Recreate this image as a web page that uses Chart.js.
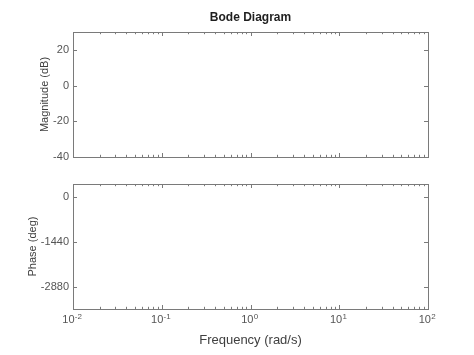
<!DOCTYPE html>
<html>
<head>
<meta charset="utf-8">
<script src="https://cdn.jsdelivr.net/npm/chart.js@4"></script>
<style>
  html, body { margin: 0; padding: 0; background: #ffffff; }
  #wrap { position: relative; width: 474px; height: 355px; }
  #wrap canvas { position: absolute; left: 0; top: 0; }
</style>
</head>
<body>
<div id="wrap">
  <canvas id="mag" width="474" height="355"></canvas>
  <canvas id="phase" width="474" height="355"></canvas>
</div>
<script>
// ---- data (the reference plot contains no response curve) ----
const frequencies = [];
const magnitudeDb = [];
const phaseDeg = [];

// ---- axis ranges / tick labels ----
const freqRange = [0.01, 100];
const freqTicks = [0.01, 0.1, 1, 10, 100];
const freqTickExponents = ['-2', '-1', '0', '1', '2'];
const magRange = [-40, 30];
const magTicks = [20, 0, -20, -40];
const phaseRange = [-3580, 430];
const phaseTicks = [0, -1440, -2880];

const FONT = '"Liberation Sans", Arial, Helvetica, sans-serif';
const BOX_COLOR = '#7a7a7a';
const TICK_TEXT = '#555555';
const LABEL_TEXT = '#404040';

// plugin: MATLAB-style box with inward ticks on all four sides
const boxPlugin = {
  id: 'matlabBox',
  afterDraw(chart, args, opts) {
    const {ctx, chartArea: a, scales} = chart;
    const xs = scales.x, ys = scales.y;
    ctx.save();
    ctx.strokeStyle = BOX_COLOR;
    ctx.lineWidth = 1;
    ctx.strokeRect(Math.round(a.left) + 0.5, Math.round(a.top) + 0.5,
                   Math.round(a.right - a.left), Math.round(a.bottom - a.top));
    ctx.beginPath();
    // x ticks (log decades, with minor ticks)
    const lo = Math.round(Math.log10(freqRange[0])), hi = Math.round(Math.log10(freqRange[1]));
    for (let d = lo; d <= hi; d++) {
      for (let m = 1; m <= 9; m++) {
        const v = m * Math.pow(10, d);
        if (v > freqRange[1] * 1.0001) break;
        const px = Math.round(xs.getPixelForValue(v)) + 0.5;
        const len = m === 1 ? 4 : 2.2;
        ctx.moveTo(px, a.top); ctx.lineTo(px, a.top + len);
        ctx.moveTo(px, a.bottom); ctx.lineTo(px, a.bottom - len);
      }
    }
    // y ticks
    (opts.yTicks || []).forEach(v => {
      const py = Math.round(ys.getPixelForValue(v)) + 0.5;
      ctx.moveTo(a.left, py); ctx.lineTo(a.left + 4, py);
      ctx.moveTo(a.right, py); ctx.lineTo(a.right - 4, py);
    });
    ctx.stroke();

    if (opts.title) {
      ctx.fillStyle = '#1f1f1f';
      ctx.font = 'bold 12px ' + FONT;
      ctx.textAlign = 'center';
      ctx.textBaseline = 'alphabetic';
      ctx.fillText(opts.title, (a.left + a.right) / 2, 20.5);
    }
    if (opts.xLabels) {
      ctx.fillStyle = TICK_TEXT;
      ctx.textBaseline = 'alphabetic';
      ctx.textAlign = 'left';
      freqTicks.forEach((v, i) => {
        const px = xs.getPixelForValue(v);
        ctx.font = '11px ' + FONT;
        const wb = ctx.measureText('10').width;
        ctx.font = '8px ' + FONT;
        const we = ctx.measureText(freqTickExponents[i]).width;
        const x0 = px - (wb + we) / 2 - 1;
        ctx.font = '11px ' + FONT;
        ctx.fillText('10', x0, 323);
        ctx.font = '8px ' + FONT;
        ctx.fillText(freqTickExponents[i], x0 + wb + 0.3, 318.5);
      });
    }
    ctx.restore();
  }
};

function yAxis(range, ticks, title, titlePad) {
  return {
    type: 'linear',
    position: 'left',
    min: range[0],
    max: range[1],
    afterBuildTicks: s => { s.ticks = ticks.map(v => ({value: v})); },
    afterFit: s => { s.width = 73; },
    grid: {display: false, drawTicks: false, tickLength: 0},
    border: {display: false},
    ticks: {font: {family: FONT, size: 11}, color: TICK_TEXT, padding: 4,
            callback: v => String(v)},
    title: {display: true, text: title, color: LABEL_TEXT,
            font: {family: FONT, size: 11}, padding: {top: titlePad, bottom: 0}}
  };
}

const common = {
  responsive: false,
  animation: false,
  devicePixelRatio: 1,
  plugins: {legend: {display: false}, title: {display: false}, tooltip: {enabled: false}},
};

new Chart(document.getElementById('mag'), {
  type: 'line',
  data: {labels: frequencies, datasets: [{data: magnitudeDb, borderColor: '#0072bd', pointRadius: 0}]},
  options: Object.assign({}, common, {
    layout: {padding: {left: 0, top: 32, right: 46, bottom: 198}},
    scales: {
      x: {type: 'logarithmic', min: freqRange[0], max: freqRange[1], display: false},
      y: yAxis(magRange, magTicks, 'Magnitude (dB)', 38)
    },
    plugins: Object.assign({}, common.plugins, {matlabBox: {yTicks: magTicks, title: 'Bode Diagram'}})
  }),
  plugins: [boxPlugin]
});

new Chart(document.getElementById('phase'), {
  type: 'line',
  data: {labels: frequencies, datasets: [{data: phaseDeg, borderColor: '#0072bd', pointRadius: 0}]},
  options: Object.assign({}, common, {
    layout: {padding: {left: 0, top: 184, right: 46, bottom: 0}},
    scales: {
      x: {
        type: 'logarithmic', min: freqRange[0], max: freqRange[1],
        afterFit: s => { s.height = 46; },
        grid: {display: false, drawTicks: false, tickLength: 0},
        border: {display: false},
        ticks: {display: false},
        title: {display: true, text: 'Frequency (rad/s)', color: LABEL_TEXT,
                font: {family: FONT, size: 13}, padding: {top: 0, bottom: 6.7}}
      },
      y: yAxis(phaseRange, phaseTicks, 'Phase (deg)', 26)
    },
    plugins: Object.assign({}, common.plugins, {matlabBox: {yTicks: phaseTicks, xLabels: true}})
  }),
  plugins: [boxPlugin]
});
</script>
</body>
</html>
